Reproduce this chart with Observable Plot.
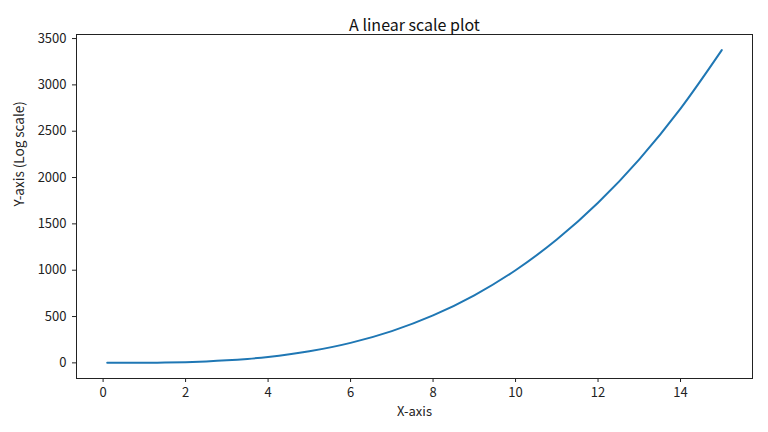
<!DOCTYPE html>
<html><head><meta charset="utf-8">
<script src="https://cdn.jsdelivr.net/npm/d3@7"></script>
<script src="https://cdn.jsdelivr.net/npm/@observablehq/plot@0.6"></script>
<style>body{margin:0;background:#fff;} svg{display:block;}</style>
</head><body><div id="chart"></div>
<script>
const xs = [0.1, 0.5, 1, 1.5, 2, 2.5, 3, 3.5, 4, 5, 6, 7, 8, 9, 10, 11, 12, 13, 14, 15];
const ys = [0, 0.1, 1, 3.4, 8, 15.6, 27, 43, 64, 125, 216, 343, 512, 729, 1000, 1331, 1728, 2197, 2744, 3375];
const xTicks = [0, 2, 4, 6, 8, 10, 12, 14];
const yTicks = [0, 500, 1000, 1500, 2000, 2500, 3000, 3500];
const title = "A linear scale plot";
const xLabel = "X-axis";
const yLabel = "Y-axis (Log scale)";
const data = xs.map((x, i) => ({x, y: ys[i]}));
const font = "'Noto Sans CJK JP', 'Noto Sans', sans-serif";
const chart = Plot.plot({
  width: 768, height: 432,
  marginTop: 34, marginBottom: 54, marginLeft: 76, marginRight: 16,
  style: {fontFamily: font, fontSize: "13px", color: "#222", background: "#fff"},
  x: {domain: [-0.645, 15.745], label: null},
  y: {domain: [-168.7, 3543.7], label: null},
  marks: [
    Plot.axisX({ticks: xTicks, tickSize: 4, tickPadding: 5, fontSize: 13, label: null, tickFormat: d => String(d)}),
    Plot.axisY({ticks: yTicks, tickSize: 4, tickPadding: 6, fontSize: 13, label: null, tickFormat: d => String(d)}),
    Plot.frame({stroke: "#222", strokeWidth: 1}),
    Plot.line(data, {x: "x", y: "y", stroke: "#1f77b4", strokeWidth: 2, curve: "monotone-x"}),
    Plot.text([title], {frameAnchor: "top", dy: -15, fontSize: 16, fill: "#111"}),
    Plot.text([xLabel], {frameAnchor: "bottom", dy: 37, fontSize: 13, fill: "#222"}),
    Plot.text([yLabel], {frameAnchor: "left", dx: -57, rotate: -90, fontSize: 13.5, fill: "#222"})
  ]
});
document.getElementById("chart").appendChild(chart);
</script></body></html>
